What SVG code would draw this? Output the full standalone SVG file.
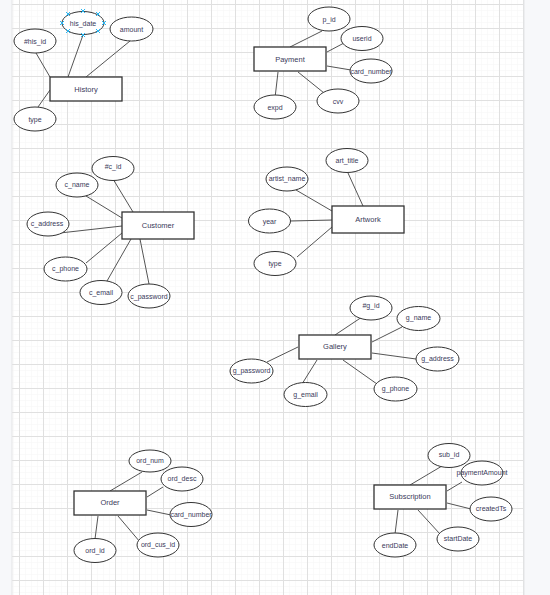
<svg xmlns="http://www.w3.org/2000/svg" width="550" height="595" viewBox="0 0 550 595">
<defs>
<pattern id="minor" x="1" y="4" width="6" height="6" patternUnits="userSpaceOnUse"><path d="M0 0H6M0 0V6" fill="none" stroke="#f5f5f5" stroke-width="1"/></pattern>
<pattern id="major" x="19" y="4" width="24" height="24" patternUnits="userSpaceOnUse"><path d="M0 0.5H24M0.5 0V24" fill="none" stroke="#e0e0e0" stroke-width="1"/></pattern>
<style>
.e{fill:#fff;stroke:#333;stroke-width:1}
.r{fill:#fff;stroke:#333;stroke-width:1.3}
.t{font-family:"Liberation Sans",Arial,sans-serif;font-size:7px;fill:#3a3a5a;text-anchor:middle;dominant-baseline:central}
.tb{font-size:7.5px}
.c line{stroke:#555;stroke-width:1}
.sel{stroke:#29b6f2;stroke-width:1}
</style>
</defs>
<rect width="550" height="595" fill="#f7f8fa"/>
<rect x="12" y="0" width="512" height="595" fill="#fff"/>
<rect x="12" y="0" width="512" height="595" fill="url(#minor)"/>
<rect x="12" y="0" width="512" height="595" fill="url(#major)"/>
<line x1="12" y1="0" x2="12" y2="595" stroke="#e3e4e6"/>
<line x1="524" y1="0" x2="524" y2="595" stroke="#e3e4e6"/>

<g id="connectors" class="c">
<line x1="36" y1="53" x2="50" y2="77"/>
<line x1="83" y1="35" x2="68" y2="77"/>
<line x1="130" y1="41" x2="86" y2="77"/>
<line x1="38" y1="107" x2="50" y2="90"/>

<line x1="322" y1="31" x2="290" y2="47"/>
<line x1="344" y1="43" x2="327" y2="52"/>
<line x1="327" y1="66" x2="351" y2="70"/>
<line x1="298" y1="72" x2="329" y2="97"/>
<line x1="278" y1="72" x2="275" y2="98"/>

<line x1="113" y1="179" x2="133" y2="212"/>
<line x1="86" y1="196" x2="122" y2="218"/>
<line x1="60" y1="233" x2="122" y2="226"/>
<line x1="86" y1="263" x2="122" y2="233"/>
<line x1="107" y1="281" x2="131" y2="239"/>
<line x1="149" y1="284" x2="140" y2="239"/>

<line x1="348" y1="173" x2="363" y2="206"/>
<line x1="296" y1="190" x2="332" y2="211"/>
<line x1="291" y1="221" x2="332" y2="220"/>
<line x1="297" y1="257" x2="332" y2="227"/>

<line x1="362" y1="317" x2="335" y2="335"/>
<line x1="402" y1="327" x2="372" y2="342"/>
<line x1="416" y1="359" x2="372" y2="353"/>
<line x1="377" y1="384" x2="343" y2="360"/>
<line x1="302" y1="384" x2="317" y2="360"/>
<line x1="267" y1="362" x2="298" y2="347"/>

<line x1="142" y1="472" x2="110" y2="491"/>
<line x1="163" y1="487" x2="147" y2="497"/>
<line x1="147" y1="510" x2="171" y2="515"/>
<line x1="118" y1="516" x2="140" y2="542"/>
<line x1="98" y1="516" x2="95" y2="539"/>

<line x1="442" y1="466" x2="410" y2="485"/>
<line x1="462" y1="482" x2="447" y2="491"/>
<line x1="447" y1="503" x2="471" y2="509"/>
<line x1="418" y1="510" x2="440" y2="534"/>
<line x1="398" y1="510" x2="395" y2="534"/>
</g>

<g id="history"><rect class="r" x="50" y="77" width="72" height="24"/><text class="t tb" x="86" y="89">History</text></g>
<g id="his_id"><ellipse class="e" cx="35" cy="41" rx="21" ry="12"/><text class="t" x="35" y="41">#his_id</text></g>
<g id="his_date"><ellipse class="e" cx="83" cy="23" rx="21" ry="11.5"/><text class="t" x="83" y="23">his_date</text>
<g class="sel"><path d="M66 12l4 4M70 12l-4 4M81 9l4 4M85 9l-4 4M96 12l4 4M100 12l-4 4M60 21l4 4M64 21l-4 4M102 21l4 4M106 21l-4 4M66 29l4 4M70 29l-4 4M81 33l4 4M85 33l-4 4M96 29l4 4M100 29l-4 4"/></g></g>
<g id="amount"><ellipse class="e" cx="131.5" cy="29" rx="21.5" ry="12"/><text class="t" x="131.5" y="29">amount</text></g>
<g id="type1"><ellipse class="e" cx="35" cy="119" rx="21" ry="12"/><text class="t" x="35" y="119">type</text></g>

<g id="payment"><rect class="r" x="254" y="47" width="72" height="24"/><text class="t tb" x="290" y="59">Payment</text></g>
<g id="p_id"><ellipse class="e" cx="329" cy="19" rx="21" ry="12"/><text class="t" x="329" y="19">p_id</text></g>
<g id="userid"><ellipse class="e" cx="362" cy="38.5" rx="21" ry="12"/><text class="t" x="362" y="38.5">userid</text></g>
<g id="card_number1"><ellipse class="e" cx="371" cy="71" rx="21" ry="12"/><text class="t" x="371" y="71">card_number</text></g>
<g id="cvv"><ellipse class="e" cx="338" cy="101" rx="21" ry="12"/><text class="t" x="338" y="101">cvv</text></g>
<g id="expd"><ellipse class="e" cx="275" cy="107" rx="21" ry="12"/><text class="t" x="275" y="107">expd</text></g>

<g id="customer"><rect class="r" x="122" y="212" width="72" height="27"/><text class="t tb" x="158" y="225.5">Customer</text></g>
<g id="c_id"><ellipse class="e" cx="113" cy="168.5" rx="21" ry="12"/><text class="t" x="113" y="166">#c_id</text></g>
<g id="c_name"><ellipse class="e" cx="77" cy="185" rx="21" ry="12"/><text class="t" x="77" y="184">c_name</text></g>
<g id="c_address"><ellipse class="e" cx="48" cy="224" rx="21" ry="12"/><text class="t" x="47" y="223">c_address</text></g>
<g id="c_phone"><ellipse class="e" cx="65.5" cy="269" rx="21.5" ry="12"/><text class="t" x="65.5" y="268.5">c_phone</text></g>
<g id="c_email"><ellipse class="e" cx="101" cy="292.5" rx="21" ry="12"/><text class="t" x="101" y="292">c_email</text></g>
<g id="c_password"><ellipse class="e" cx="149" cy="296" rx="21" ry="12"/><text class="t" x="149" y="296">c_password</text></g>

<g id="artwork"><rect class="r" x="332" y="206" width="72" height="27"/><text class="t tb" x="368" y="219">Artwork</text></g>
<g id="art_title"><ellipse class="e" cx="347" cy="160.5" rx="21" ry="12"/><text class="t" x="347" y="160">art_title</text></g>
<g id="artist_name"><ellipse class="e" cx="287" cy="179" rx="21" ry="12"/><text class="t" x="287" y="178.5">artist_name</text></g>
<g id="year"><ellipse class="e" cx="269.5" cy="221" rx="21" ry="12"/><text class="t" x="269.5" y="221">year</text></g>
<g id="type2"><ellipse class="e" cx="275" cy="263.5" rx="21" ry="12"/><text class="t" x="275" y="263">type</text></g>

<g id="gallery"><rect class="r" x="299" y="335" width="72" height="24"/><text class="t tb" x="335" y="346.5">Gallery</text></g>
<g id="g_id"><ellipse class="e" cx="371" cy="308" rx="21" ry="12"/><text class="t" x="371" y="305">#g_id</text></g>
<g id="g_name"><ellipse class="e" cx="418.5" cy="318.5" rx="21.5" ry="12"/><text class="t" x="418.5" y="317">g_name</text></g>
<g id="g_address"><ellipse class="e" cx="437.5" cy="359" rx="21.5" ry="12"/><text class="t" x="437.5" y="358">g_address</text></g>
<g id="g_phone"><ellipse class="e" cx="395.5" cy="389" rx="21.5" ry="12"/><text class="t" x="395.5" y="388">g_phone</text></g>
<g id="g_email"><ellipse class="e" cx="305.5" cy="394.5" rx="21.5" ry="12"/><text class="t" x="305.5" y="394">g_email</text></g>
<g id="g_password"><ellipse class="e" cx="251.5" cy="371" rx="21.5" ry="12"/><text class="t" x="251.5" y="370.5">g_password</text></g>

<g id="order"><rect class="r" x="74" y="491" width="72" height="24"/><text class="t tb" x="110" y="502.5">Order</text></g>
<g id="ord_num"><ellipse class="e" cx="150" cy="461" rx="21" ry="11"/><text class="t" x="150" y="460.5">ord_num</text></g>
<g id="ord_desc"><ellipse class="e" cx="182" cy="479" rx="21" ry="12"/><text class="t" x="182" y="478.5">ord_desc</text></g>
<g id="card_number2"><ellipse class="e" cx="191" cy="514.5" rx="21" ry="12"/><text class="t" x="191" y="514">card_number</text></g>
<g id="ord_cus_id"><ellipse class="e" cx="158" cy="545" rx="21" ry="12"/><text class="t" x="158" y="544">ord_cus_id</text></g>
<g id="ord_id"><ellipse class="e" cx="95" cy="550.5" rx="21" ry="12"/><text class="t" x="95" y="550">ord_id</text></g>

<g id="subscription"><rect class="r" x="374" y="485" width="72" height="24"/><text class="t tb" x="410" y="496.5">Subscription</text></g>
<g id="sub_id"><ellipse class="e" cx="449" cy="455.5" rx="21" ry="12"/><text class="t" x="449" y="454.5">sub_id</text></g>
<g id="paymentAmount"><ellipse class="e" cx="482" cy="473" rx="21" ry="12"/><text class="t" x="482" y="472">paymentAmount</text></g>
<g id="createdTs"><ellipse class="e" cx="491" cy="509" rx="21" ry="12"/><text class="t" x="491" y="508.5">createdTs</text></g>
<g id="startDate"><ellipse class="e" cx="458" cy="539" rx="21" ry="12"/><text class="t" x="458" y="538">startDate</text></g>
<g id="endDate"><ellipse class="e" cx="395" cy="545" rx="21" ry="12"/><text class="t" x="395" y="545">endDate</text></g>
</svg>
